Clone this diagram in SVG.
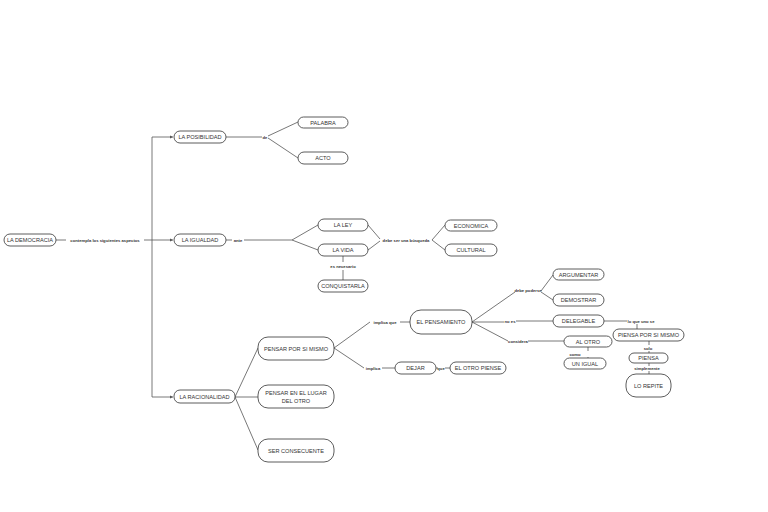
<svg xmlns="http://www.w3.org/2000/svg" width="768" height="512" viewBox="0 0 768 512">
<style>
.n rect{fill:#fff;stroke:#333;stroke-width:0.8}
.n text{font-family:"Liberation Sans",Arial,sans-serif;font-size:5.6px;fill:#333;text-anchor:middle;dominant-baseline:central}
.c path,.c line{fill:none;stroke:#555;stroke-width:0.8}
.l{font-family:"Liberation Sans",Arial,sans-serif;font-size:4.2px;font-weight:bold;fill:#333;text-anchor:middle;dominant-baseline:central}
</style>
<defs>
<marker id="a" viewBox="0 0 6 6" refX="6" refY="3" markerWidth="4" markerHeight="4" orient="auto"><path d="M0,0L6,3L0,6z" fill="#555"/></marker>
</defs>
<rect width="768" height="512" fill="#fff"/>
<g class="c">
<path d="M56,240H66M144,240H152"/>
<path d="M152,137V397"/>
<path d="M152,137H173" marker-end="url(#a)"/>
<path d="M152,240H173" marker-end="url(#a)"/>
<path d="M152,397H173" marker-end="url(#a)"/>
<path d="M226,137H262M268,136L298,122M268,138L298,158"/>
<path d="M226,240H232M244,240H292L318,225M292,240L318,250"/>
<path d="M368,225L380,239M368,250L380,241"/>
<path d="M432,240L445,225M432,240L445,250"/>
<path d="M343,256V262M343,270V280"/>
<path d="M235,397L258,348M235,397H258M235,397L258,450"/>
<path d="M334,348L370,322M400,322H410"/>
<path d="M334,348L364,368M382,368H395M436,368H438M445,368H450"/>
<path d="M472,322L515,292M541,291L553,275M541,292L553,300"/>
<path d="M472,322H504M516,321H553"/>
<path d="M472,322L508,341M528,341H564"/>
<path d="M588,347V351M588,357V358"/>
<path d="M604,321H627M637,324V329"/>
<path d="M649,341V345M649,351V353M649,363V366M649,371V374"/>
</g>
<text class="l" x="105" y="240">contempla los siguientes aspectos</text>
<text class="l" x="265" y="137">de</text>
<text class="l" x="238" y="240">ante</text>
<text class="l" x="406" y="240">debe ser una búsqueda</text>
<text class="l" x="343" y="266">es necesario</text>
<text class="l" x="385" y="322">implica que</text>
<text class="l" x="373" y="368">implica</text>
<text class="l" x="441" y="368">que</text>
<text class="l" x="528" y="290">debe poderse</text>
<text class="l" x="510" y="321">no es</text>
<text class="l" x="518" y="341">considera</text>
<text class="l" x="575" y="354">como</text>
<text class="l" x="641" y="321">lo que uno se</text>
<text class="l" x="648" y="348">solo</text>
<text class="l" x="647" y="368">simplemente</text>
<g id="democracia" class="n"><rect x="4" y="234" width="52" height="12" rx="6"/><text x="30" y="240">LA DEMOCRACIA</text></g>
<g id="posibilidad" class="n"><rect x="174" y="131" width="52" height="12" rx="6"/><text x="200" y="137">LA POSIBILIDAD</text></g>
<g id="igualdad" class="n"><rect x="174" y="234" width="52" height="12" rx="6"/><text x="200" y="240">LA IGUALDAD</text></g>
<g id="racionalidad" class="n"><rect x="174" y="390" width="61" height="13" rx="6"/><text x="204.5" y="396.5">LA RACIONALIDAD</text></g>
<g id="palabra" class="n"><rect x="298" y="117" width="50" height="11" rx="5.5"/><text x="323" y="122.5">PALABRA</text></g>
<g id="acto" class="n"><rect x="298" y="152" width="50" height="12" rx="6"/><text x="323" y="158">ACTO</text></g>
<g id="laley" class="n"><rect x="318" y="219" width="50" height="12" rx="6"/><text x="343" y="225">LA LEY</text></g>
<g id="lavida" class="n"><rect x="318" y="244" width="50" height="12" rx="6"/><text x="343" y="250">LA VIDA</text></g>
<g id="conquistarla" class="n"><rect x="318" y="280" width="50" height="12" rx="6"/><text x="343" y="286">CONQUISTARLA</text></g>
<g id="economica" class="n"><rect x="445" y="220" width="52" height="11" rx="5.5"/><text x="471" y="225.5">ECONOMICA</text></g>
<g id="cultural" class="n"><rect x="445" y="244" width="52" height="12" rx="6"/><text x="471" y="250">CULTURAL</text></g>
<g id="pensarsi" class="n"><rect x="258" y="337" width="76" height="23" rx="10"/><text x="296" y="348.5">PENSAR POR SI MISMO</text></g>
<g id="pensarlugar" class="n"><rect x="258" y="385" width="76" height="23" rx="10"/><text x="296" y="393">PENSAR EN EL LUGAR</text><text x="296" y="400.5">DEL OTRO</text></g>
<g id="consecuente" class="n"><rect x="258" y="439" width="76" height="23" rx="10"/><text x="296" y="450.5">SER CONSECUENTE</text></g>
<g id="pensamiento" class="n"><rect x="410" y="310" width="62" height="24" rx="11"/><text x="441" y="322">EL PENSAMIENTO</text></g>
<g id="dejar" class="n"><rect x="395" y="362" width="41" height="12" rx="6"/><text x="415.5" y="368">DEJAR</text></g>
<g id="otropiense" class="n"><rect x="450" y="362" width="56" height="12" rx="6"/><text x="478" y="368">EL OTRO PIENSE</text></g>
<g id="argumentar" class="n"><rect x="553" y="269" width="51" height="11" rx="5.5"/><text x="578.5" y="274.5">ARGUMENTAR</text></g>
<g id="demostrar" class="n"><rect x="553" y="294" width="51" height="12" rx="6"/><text x="578.5" y="300">DEMOSTRAR</text></g>
<g id="delegable" class="n"><rect x="553" y="315" width="51" height="12" rx="6"/><text x="578.5" y="321">DELEGABLE</text></g>
<g id="alotro" class="n"><rect x="564" y="336" width="48" height="11" rx="5.5"/><text x="588" y="341.5">AL OTRO</text></g>
<g id="unigual" class="n"><rect x="564" y="358" width="42" height="11" rx="5.5"/><text x="585" y="363.5">UN IGUAL</text></g>
<g id="piensasi" class="n"><rect x="613" y="329" width="71" height="12" rx="6"/><text x="648.5" y="335">PIENSA POR SI MISMO</text></g>
<g id="piensa" class="n"><rect x="629" y="353" width="39" height="10" rx="5"/><text x="648.5" y="358">PIENSA</text></g>
<g id="repite" class="n"><rect x="626" y="374" width="45" height="23" rx="10"/><text x="648.5" y="385.5">LO REPITE</text></g>
</svg>
